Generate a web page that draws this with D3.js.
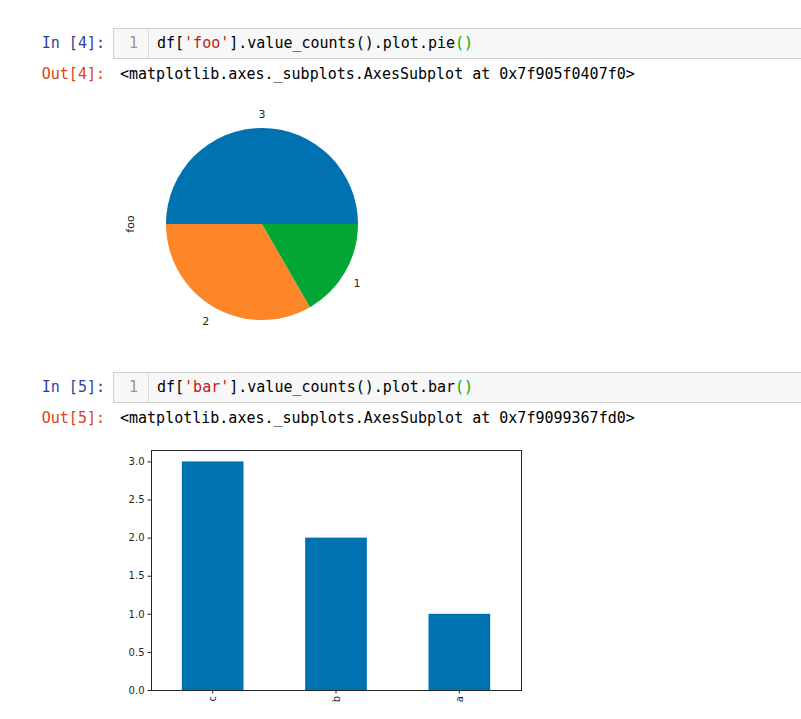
<!DOCTYPE html>
<html><head><meta charset="utf-8">
<script src="https://cdn.jsdelivr.net/npm/d3@7"></script>
<style>body{margin:0;background:#fff}svg{display:block}</style>
</head><body>
<svg id="c" width="801" height="719"></svg>
<script>
const pieLabels = ["3", "2", "1"];
const pieValues = [3, 2, 1];
const pieColors = ["#0072b2", "#fd8629", "#03a634"];
const barCategories = ["c", "b", "a"];
const barValues = [3, 2, 1];
const yTicks = [0, 0.5, 1, 1.5, 2, 2.5, 3];

const svg = d3.select("#c");
const mono = "'DejaVu Sans Mono', monospace";

function cell(y, n, pre, str, post, outText) {
  svg.append("rect").attr("x", 113.5).attr("y", y + 0.5).attr("width", 700).attr("height", 30)
    .attr("fill", "#f7f7f7").attr("stroke", "#cfcfcf");
  svg.append("line").attr("x1", 148.5).attr("x2", 148.5).attr("y1", y + 1).attr("y2", y + 30).attr("stroke", "#ddd");
  const fs = 15;
  svg.append("text").attr("x", 105).attr("y", y + 20).attr("text-anchor", "end").attr("font-family", mono)
    .attr("font-size", fs).attr("fill", "#303f9f").text(`In [${n}]:`);
  svg.append("text").attr("x", 138).attr("y", y + 20).attr("text-anchor", "end").attr("font-family", mono)
    .attr("font-size", fs).attr("fill", "#999").text("1");
  const t = svg.append("text").attr("x", 157).attr("y", y + 20).attr("font-family", mono).attr("font-size", fs).attr("fill", "#000");
  t.append("tspan").text("df[");
  t.append("tspan").attr("fill", "#ba2121").text(str);
  t.append("tspan").text(post);
  t.append("tspan").attr("fill", "#00aa00").text("()");
  svg.append("text").attr("x", 105).attr("y", y + 51).attr("text-anchor", "end").attr("font-family", mono)
    .attr("font-size", fs).attr("fill", "#d84315").text(`Out[${n}]:`);
  svg.append("text").attr("x", 120).attr("y", y + 51).attr("font-family", mono)
    .attr("font-size", fs).attr("fill", "#000").text(outText);
}
cell(28, 4, "", "'foo'", "].value_counts().plot.pie", "<matplotlib.axes._subplots.AxesSubplot at 0x7f905f0407f0>");
cell(372, 5, "", "'bar'", "].value_counts().plot.bar", "<matplotlib.axes._subplots.AxesSubplot at 0x7f9099367fd0>");

// Pie (matplotlib: start at 0 deg east, counterclockwise)
const cx = 262, cy = 224, R = 96;
const total = d3.sum(pieValues);
const pie = d3.pie().sort(null).startAngle(Math.PI / 2).endAngle(Math.PI / 2 - 2 * Math.PI)(pieValues);
const arc = d3.arc().innerRadius(0).outerRadius(R);
const g = svg.append("g").attr("transform", `translate(${cx},${cy})`);
g.selectAll("path").data(pie).join("path").attr("d", arc).attr("fill", (d, i) => pieColors[i]);
g.selectAll("text").data(pie).join("text")
  .attr("transform", d => { const a = (d.startAngle + d.endAngle) / 2; return `translate(${Math.sin(a) * R * 1.1},${-Math.cos(a) * R * 1.1})`; })
  .attr("text-anchor", d => { const s = Math.sin((d.startAngle + d.endAngle) / 2); return s > 0.1 ? "start" : s < -0.1 ? "end" : "middle"; })
  .attr("dy", d => -Math.cos((d.startAngle + d.endAngle) / 2) > 0.5 ? "0.9em" : (-Math.cos((d.startAngle + d.endAngle) / 2) < -0.5 ? "0" : "0.35em"))
  .attr("font-family", "'DejaVu Sans', sans-serif").attr("font-size", 11).attr("fill", "#262626")
  .text((d, i) => pieLabels[i]);
svg.append("text").attr("transform", `translate(134,${cy}) rotate(-90)`).attr("text-anchor", "middle")
  .attr("font-family", "'DejaVu Sans', sans-serif").attr("font-size", 11).attr("fill", "#262626").text("foo");

// Bar chart
const L = 151, Rr = 521, T = 450, B = 690;
const x = d3.scaleBand().domain(barCategories).range([L, Rr]).paddingInner(0.5).paddingOuter(0.25);
const y = d3.scaleLinear().domain([0, 3.15]).range([B, T]);
svg.append("g").selectAll("rect").data(barValues).join("rect")
  .attr("x", (d, i) => x(barCategories[i])).attr("width", x.bandwidth())
  .attr("y", d => y(d)).attr("height", d => B - y(d)).attr("fill", "#0072b2");
const ya = svg.append("g").attr("transform", `translate(${L},0)`)
  .call(d3.axisLeft(y).tickValues(yTicks).tickFormat(d3.format(".1f")).tickSize(3.5));
const xa = svg.append("g").attr("transform", `translate(0,${B})`)
  .call(d3.axisBottom(x).tickSize(3.5));
[ya, xa].forEach(a => { a.select(".domain").remove(); a.selectAll("text").attr("font-family", "'DejaVu Sans', sans-serif").attr("font-size", 10).attr("fill", "#262626"); a.selectAll("line").attr("stroke", "#262626"); });
xa.selectAll("text").attr("transform", "rotate(-90)").attr("text-anchor", "end").attr("x", -6).attr("y", 0).attr("dy", "0.35em");
svg.append("rect").attr("x", L + 0.5).attr("y", T + 0.5).attr("width", Rr - L - 1 + 1).attr("height", B - T)
  .attr("fill", "none").attr("stroke", "#262626").attr("stroke-width", 1);
</script>
</body></html>
